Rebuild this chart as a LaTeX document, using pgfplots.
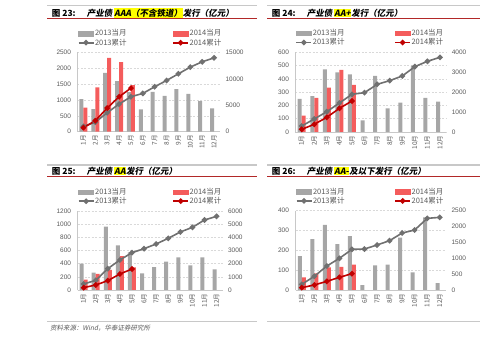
\documentclass[border=0pt]{standalone}
\usepackage{pgfplots}
\pgfplotsset{compat=1.18}
\usepackage{fontspec}
\setmainfont{Liberation Sans}
\newfontfamily\cjk{Noto Sans CJK SC}
\newfontfamily\cjksl[FakeSlant=0.18]{Noto Sans CJK SC}
\definecolor{barGray}{RGB}{166,166,166}
\definecolor{barRed}{RGB}{244,92,92}
\definecolor{lnGray}{RGB}{112,112,112}
\definecolor{lnRed}{RGB}{192,0,0}
\definecolor{gridc}{RGB}{217,217,217}
\definecolor{tgray}{RGB}{89,89,89}
\definecolor{hdr}{RGB}{200,200,200}
\definecolor{hdrRed}{RGB}{178,40,40}
\definecolor{hl}{RGB}{255,255,0}
\pgfplotsset{
  common/.style={scale only axis, xmin=0.5, xmax=12.5, ymin=0,
    tick style={draw=none},
    scaled y ticks=false,
    /pgf/number format/1000 sep={},
    /pgf/number format/assume math mode=true,
    yticklabel style={font=\fontsize{6.5}{7}\selectfont, text=tgray}},
  leftax/.style={common,
    axis x line*=bottom, axis y line*=left,
    axis line style={draw=hdr, line width=0.6pt},
    xtick={1,...,12},
    xticklabels={1月,2月,3月,4月,5月,6月,7月,8月,9月,10月,11月,12月},
    xticklabel style={rotate=90, anchor=east, font=\cjk\fontsize{6.5}{7}\selectfont, text=tgray},
    yticklabel style={xshift=-3pt},
    ymajorgrids, grid style={dash pattern=on 2pt off 1.5pt, gridc, line width=0.5pt}},
  rightax/.style={common,
    axis y line*=right, axis x line=none,
    axis line style={draw=none},
    yticklabel style={xshift=2pt},
    legend style={at={(0,1)}, anchor=south west, yshift=5pt, draw=none, fill=none,
      inner sep=0pt, legend columns=2, legend cell align=left,
      font=\cjk\fontsize{7.5}{8}\selectfont, text=tgray,
      nodes={inner sep=0.7pt}},
    legend image code/.code={\draw[mark repeat=2, mark phase=2, #1] plot coordinates {(0pt,0pt) (7.5pt,0pt) (15pt,0pt)};}},
  gbar/.style={ybar, bar width=4pt, bar shift=-2pt, fill=barGray, draw=none},
  rbar/.style={ybar, bar width=4pt, bar shift=2pt, fill=barRed, draw=none},
  gline/.style={lnGray, line width=1.6pt, mark=*, mark size=1.9pt, mark options={fill=lnGray, draw=lnGray}},
  rline/.style={lnRed, line width=1.6pt, mark=*, mark size=1.9pt, mark options={fill=lnRed, draw=lnRed}},
}
\newcommand{\barimg}[1]{\addlegendimage{legend image code/.code={\fill[#1] (0pt,-2.3pt) rectangle (15pt,2.3pt);}}}
\begin{document}
\begin{tikzpicture}
\useasboundingbox (0,0) rectangle (499pt,340pt);
% header lines
\foreach \a/\b in {47/257, 267/480}{
  \draw[hdr, line width=0.7pt] (\a pt,335pt) -- (\b pt,335pt);
  \draw[hdrRed, line width=0.8pt] (\a pt,321.7pt) -- (\b pt,321.7pt);
  \draw[hdr, line width=1.4pt] (\a pt,174.8pt) -- (\b pt,174.8pt);
  \draw[hdrRed, line width=0.8pt] (\a pt,163.3pt) -- (\b pt,163.3pt);
  \draw[hdr, line width=1.4pt] (\a pt,18.5pt) -- (\b pt,18.5pt);
}
\setlength{\fboxsep}{0.6pt}
% titles
\node[anchor=west, inner sep=0pt, font=\cjk\bfseries\fontsize{8.5}{9}\selectfont] at (51.7pt,327pt) {图 23:};
\node[anchor=west, inner sep=0pt, font=\cjksl\bfseries\fontsize{8.5}{9}\selectfont] at (86.7pt,327pt) {产业债\,\colorbox{hl}{AAA（不含铁道）}发行（亿元）};
\node[anchor=west, inner sep=0pt, font=\cjk\bfseries\fontsize{8.5}{9}\selectfont] at (271.7pt,327pt) {图 24:};
\node[anchor=west, inner sep=0pt, font=\cjksl\bfseries\fontsize{8.5}{9}\selectfont] at (306.7pt,327pt) {产业债\,\colorbox{hl}{AA+}发行（亿元）};
\node[anchor=west, inner sep=0pt, font=\cjk\bfseries\fontsize{8.5}{9}\selectfont] at (51.7pt,169pt) {图 25:};
\node[anchor=west, inner sep=0pt, font=\cjksl\bfseries\fontsize{8.5}{9}\selectfont] at (86.7pt,169pt) {产业债\,\colorbox{hl}{AA}发行（亿元）};
\node[anchor=west, inner sep=0pt, font=\cjk\bfseries\fontsize{8.5}{9}\selectfont] at (271.7pt,169pt) {图 26:};
\node[anchor=west, inner sep=0pt, font=\cjksl\bfseries\fontsize{8.5}{9}\selectfont] at (306.7pt,169pt) {产业债\,\colorbox{hl}{AA-}及以下发行（亿元）};
\node[anchor=west, inner sep=0pt, font=\cjksl\fontsize{6.5}{7}\selectfont, text=tgray] at (50pt,11.7pt) {资料来源：Wind，华泰证券研究所};

% ---------- Panel 23 ----------
\begin{axis}[leftax, at={(77.5pt,208.3pt)}, anchor=south west, width=142.5pt, height=79.2pt,
  ymax=2500, ytick={0,500,...,2500}]
\addplot[gbar] coordinates {(1,1029) (2,714) (3,1859) (4,1597) (5,1250) (6,704) (7,1260) (8,1134) (9,1345) (10,1197) (11,966) (12,735)};
\addplot[rbar] coordinates {(1,756) (2,1397) (3,2332) (4,2195) (5,1470)};
\end{axis}
\begin{axis}[rightax, at={(77.5pt,208.3pt)}, anchor=south west, width=142.5pt, height=79.2pt,
  ymax=15000, ytick={0,5000,10000,15000},
  legend style={/tikz/every even column/.append style={column sep=45pt}}]
\barimg{barGray}\addlegendentry{2013当月}
\barimg{barRed}\addlegendentry{2014当月}
\addplot[gline] coordinates {(1,1000) (2,1800) (3,3600) (4,5230) (5,6620) (6,7250) (7,8510) (8,9700) (9,10970) (10,12230) (11,13240) (12,13990)};
\addlegendentry{2013累计}
\addplot[rline] coordinates {(1,756) (2,2080) (3,4475) (4,6617) (5,8256)};
\addlegendentry{2014累计}
\end{axis}

% ---------- Panel 24 ----------
\begin{axis}[leftax, at={(295.4pt,208pt)}, anchor=south west, width=150.9pt, height=79.7pt,
  ymax=600, ytick={0,100,...,600}]
\addplot[gbar] coordinates {(1,249) (2,271) (3,472) (4,449) (5,434) (6,88) (7,422) (8,178) (9,221) (10,500) (11,256) (12,228)};
\addplot[rbar] coordinates {(1,123) (2,256) (3,334) (4,467) (5,354)};
\end{axis}
\begin{axis}[rightax, at={(295.4pt,208pt)}, anchor=south west, width=150.9pt, height=79.7pt,
  ymax=4000, ytick={0,1000,...,4000},
  legend style={/tikz/every even column/.append style={column sep=49pt}}]
\barimg{barGray}\addlegendentry{2013当月}
\barimg{barRed}\addlegendentry{2014当月}
\addplot[gline] coordinates {(1,301) (2,653) (3,1021) (4,1456) (5,1891) (6,1975) (7,2393) (8,2577) (9,2812) (10,3280) (11,3548) (12,3749)};
\addlegendentry{2013累计}
\addplot[rline] coordinates {(1,134) (2,385) (3,736) (4,1188) (5,1556)};
\addlegendentry{2014累计}
\end{axis}

% ---------- Panel 25 ----------
\begin{axis}[leftax, at={(77.6pt,50pt)}, anchor=south west, width=145pt, height=79pt,
  ymax=1200, ytick={0,200,...,1200}]
\addplot[gbar] coordinates {(1,400) (2,263) (3,962) (4,678) (5,570) (6,253) (7,349) (8,430) (9,496) (10,375) (11,496) (12,314)};
\addplot[rbar] coordinates {(1,157) (2,243) (3,304) (4,516) (5,344)};
\end{axis}
\begin{axis}[rightax, at={(77.6pt,50pt)}, anchor=south west, width=145pt, height=79pt,
  ymax=6000, ytick={0,1000,...,6000},
  legend style={/tikz/every even column/.append style={column sep=45pt}}]
\barimg{barGray}\addlegendentry{2013当月}
\barimg{barRed}\addlegendentry{2014当月}
\addplot[gline] coordinates {(1,456) (2,734) (3,1620) (4,2278) (5,2835) (6,3139) (7,3494) (8,3924) (9,4405) (10,4759) (11,5316) (12,5595)};
\addlegendentry{2013累计}
\addplot[rline] coordinates {(1,177) (2,380) (3,709) (4,1215) (5,1595)};
\addlegendentry{2014累计}
\end{axis}

% ---------- Panel 26 ----------
\begin{axis}[leftax, at={(295.5pt,50pt)}, anchor=south west, width=150.5pt, height=79.3pt,
  ymax=400, ytick={0,100,...,400}]
\addplot[gbar] coordinates {(1,171) (2,257) (3,328) (4,232) (5,272) (6,24) (7,124) (8,128) (9,264) (10,89) (11,366) (12,35)};
\addplot[rbar] coordinates {(1,64) (2,84) (3,114) (4,116) (5,128)};
\end{axis}
\begin{axis}[rightax, at={(295.5pt,50pt)}, anchor=south west, width=150.5pt, height=79.3pt,
  ymax=2500, ytick={0,500,...,2500},
  legend style={/tikz/every even column/.append style={column sep=49pt}}]
\barimg{barGray}\addlegendentry{2013当月}
\barimg{barRed}\addlegendentry{2014当月}
\addplot[gline] coordinates {(1,179) (2,431) (3,756) (4,998) (5,1282) (6,1292) (7,1418) (8,1555) (9,1796) (10,1891) (11,2258) (12,2290)};
\addlegendentry{2013累计}
\addplot[rline] coordinates {(1,74) (2,158) (3,273) (4,399) (5,515)};
\addlegendentry{2014累计}
\end{axis}
\end{tikzpicture}
\end{document}
